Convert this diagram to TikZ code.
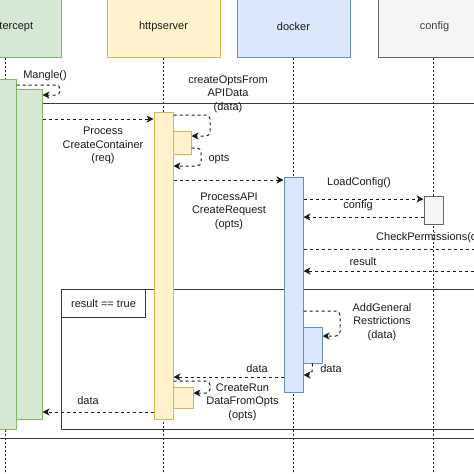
\documentclass[tikz,border=0pt]{standalone}
\usepackage{fontspec}
\setmainfont{Liberation Sans}
\usetikzlibrary{arrows.meta}
\definecolor{greenF}{HTML}{D5E8D4}
\definecolor{greenS}{HTML}{82B366}
\definecolor{yellowF}{HTML}{FFF2CC}
\definecolor{yellowS}{HTML}{D6B656}
\definecolor{blueF}{HTML}{DAE8FC}
\definecolor{blueS}{HTML}{6C8EBF}
\definecolor{grayF}{HTML}{F5F5F5}
\definecolor{grayS}{HTML}{666666}
\definecolor{txt}{HTML}{1A1A1A}
\definecolor{frameC}{HTML}{3A3A3A}
\newcommand{\lblfont}{\fontsize{11}{13.5}\selectfont}
\tikzset{
  hdr/.style={draw, line width=1pt, minimum height=60pt, inner sep=0pt, font=\lblfont, text=txt},
  act/.style={draw, line width=1pt, inner sep=0pt},
  life/.style={line width=1pt, dash pattern=on 2pt off 2pt, draw=black!85},
  msg/.style={line width=1pt, dash pattern=on 3pt off 3pt, draw=black!90, rounded corners=4pt,
              -{Stealth[length=7pt,width=7pt,inset=2pt]}},
  lbl/.style={align=center, inner sep=0pt, font=\lblfont, text=txt},
  frm/.style={draw=frameC, line width=1pt},
}
\begin{document}
\begin{tikzpicture}[x=1pt,y=-1pt]
\useasboundingbox (0,0) rectangle (474,474);
\clip (0,0) rectangle (474,474);
% frames
\draw[frm] (-10,103) rectangle (490,438);
\draw[frm] (61,289) rectangle (490,429);
\node[frm, draw, minimum width=84pt, minimum height=28pt, inner sep=0pt, anchor=north west] (cond) at (61,289) {};
\node[lbl] (condtext) at (cond.center) {result == true};
% headers
\node[hdr, fill=greenF, draw=greenS, minimum width=98pt] (hint) at (12,27) {intercept};
\node[hdr, fill=yellowF, draw=yellowS, minimum width=113pt] (hhttp) at (163.5,27) {httpserver};
\node[hdr, fill=blueF, draw=blueS, minimum width=113pt] (hdock) at (293.5,27) {docker};
\node[hdr, fill=grayF, draw=grayS, minimum width=113pt, text=black!75] (hconf) at (434.5,27) {config};
% lifelines
\coordinate (eint) at (5,474);
\coordinate (ehttp) at (163,474);
\coordinate (edock) at (293,474);
\coordinate (econf) at (433,474);
\draw[life] (hint.south -| eint) -- (eint);
\draw[life] (hhttp.south -| ehttp) -- (ehttp);
\draw[life] (hdock.south -| edock) -- (edock);
\draw[life] (hconf.south -| econf) -- (econf);
% activations
\node[act, fill=greenF, draw=greenS, minimum width=19pt, minimum height=350pt] (int1) at (6.5,254) {};
\node[act, fill=greenF, draw=greenS, minimum width=26pt, minimum height=330pt] (int2) at (29,254) {};
\node[act, fill=yellowF, draw=yellowS, minimum width=19pt, minimum height=307pt] (http1) at (163.5,265.5) {};
\node[act, fill=yellowF, draw=yellowS, minimum width=18pt, minimum height=23pt] (http2) at (182,142.5) {};
\node[act, fill=yellowF, draw=yellowS, minimum width=20pt, minimum height=21pt] (http3) at (183,397.5) {};
\node[act, fill=blueF, draw=blueS, minimum width=19pt, minimum height=215pt] (dock1) at (293.5,284.5) {};
\node[act, fill=blueF, draw=blueS, minimum width=19pt, minimum height=36pt] (dock2) at (312.5,345) {};
\node[act, fill=grayF, draw=grayS, minimum width=19pt, minimum height=28pt] (conf1) at (433.5,210) {};
% off-picture end of the CheckPermissions call
\coordinate (offr) at (480,260);
% messages
\draw[msg] (int1.east |- 0,85) -- (60,85) -- (60,95) -- (int2.east |- 0,95);
\node[lbl] (l1) at (45,76) {Mangle()};
\draw[msg] (int2.east |- 0,119) -- (http1.west |- 0,119);
\node[lbl] (l2) at (103,145.5) {Process\\CreateContainer\\(req)};
\draw[msg] (http1.east |- 0,115) -- (210,115) -- (210,136) -- (http2.east |- 0,136);
\node[lbl] (l3) at (228,94) {createOptsFrom\\APIData\\(data)};
\draw[msg] (http2.east |- 0,148) -- (201,148) -- (201,166) -- (http1.east |- 0,166);
\node[lbl] (l4) at (219,159) {opts};
\draw[msg] (http1.east |- 0,180) -- (dock1.west |- 0,180);
\node[lbl] (l5) at (229,211) {ProcessAPI\\CreateRequest\\(opts)};
\draw[msg] (dock1.east |- 0,199) -- (conf1.west |- 0,199);
\node[lbl] (l6) at (359,183) {LoadConfig()};
\draw[msg] (conf1.west |- 0,217) -- (dock1.east |- 0,217);
\node[lbl] (l7) at (358,206) {config};
\draw[line width=1pt, dash pattern=on 3pt off 3pt, draw=black!90] (dock1.east |- 0,249) -- (offr |- 0,249);
\node[lbl, anchor=west] (l8) at (376,238) {CheckPermissions(data)};
\draw[msg] (offr |- 0,271) -- (dock1.east |- 0,271);
\node[lbl] (l9) at (363,262) {result};
\draw[msg] (dock1.east |- 0,311) -- (340,311) -- (340,336) -- (dock2.east |- 0,336);
\node[lbl] (l10) at (382,322) {AddGeneral\\Restrictions\\(data)};
\draw[msg] (dock2.south) -- (312,375) -- (dock1.east |- 0,375);
\node[lbl] (l11) at (331,369) {data};
\draw[msg] (dock1.west |- 0,377) -- (http1.east |- 0,377);
\node[lbl] (l12) at (257,369) {data};
\draw[msg] (http1.east |- 0,381) -- (210,381) -- (210,393) -- (http3.east |- 0,393);
\node[lbl] (l13) at (242.5,402) {CreateRun\\DataFromOpts\\(opts)};
\draw[msg] (http1.west |- 0,412) -- (int2.east |- 0,412);
\node[lbl] (l14) at (88,401) {data};
\end{tikzpicture}
\end{document}
